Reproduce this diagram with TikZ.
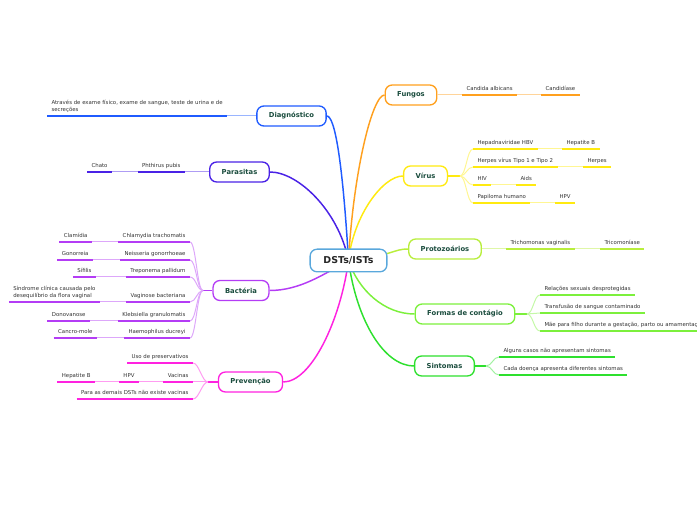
\documentclass[tikz,border=0pt]{standalone}
\usepackage{fontspec}
\setmainfont{DejaVu Sans}
\usetikzlibrary{backgrounds}

\definecolor{ctrc}{HTML}{5AA8DC}
\definecolor{labelc}{HTML}{1B4D3E}
\definecolor{leafc}{HTML}{333333}
\definecolor{diagc}{HTML}{1F5BFF}
\definecolor{parac}{HTML}{4A22E6}
\definecolor{bactc}{HTML}{B43CF5}
\definecolor{prevc}{HTML}{FF22E0}
\definecolor{fungc}{HTML}{FFA01E}
\definecolor{virc}{HTML}{FFEA10}
\definecolor{protc}{HTML}{B8EE3C}
\definecolor{formc}{HTML}{7CF03C}
\definecolor{sintc}{HTML}{2EE02E}

\tikzset{
	topic/.style={draw=#1, fill=white, line width=1pt, rounded corners=5.25pt, minimum height=15pt, inner xsep=9pt, inner ysep=0pt, font=\fontsize{5.1}{6}\selectfont\bfseries, text=labelc},
	leaf/.style={inner xsep=3pt, inner ysep=2pt, font=\fontsize{4.05}{5.2}\selectfont, text=leafc, text height=3.1pt, text depth=1pt},
	leaftwo/.style={inner xsep=3pt, inner ysep=2pt, font=\fontsize{4.05}{5.2}\selectfont, text=leafc, align=left},
	ul/.style={draw=#1, line width=1.1pt},
	twig/.style={draw=#1!45, line width=0.75pt},
	branch/.style={draw=#1, line width=1.1pt}}
\tikzset{every picture/.style={line width=0.75pt}}

\begin{document}
\begin{tikzpicture}[x=0.75pt,y=0.75pt,yscale=-1,xscale=1]
	\useasboundingbox (0,0) rectangle (697,520);

	%Central topic
	\node[topic=ctrc, minimum height=17pt, inner xsep=10pt, font=\fontsize{7.1}{8}\selectfont\bfseries, text=black!85] (dst) at (348.5,260.5) {DSTs/ISTs};

	%Main topics
	\node[topic=diagc] (diag) at (291.5,116) {Diagnóstico};
	\node[topic=parac] (paras) at (239.5,172) {Parasitas};
	\node[topic=bactc] (bact) at (241,290.5) {Bactéria};
	\node[topic=prevc] (prev) at (250.5,382) {Prevenção};
	\node[topic=fungc] (fung) at (411,95) {Fungos};
	\node[topic=virc] (virus) at (425.5,176) {Vírus};
	\node[topic=protc] (proto) at (445,249) {Protozoários};
	\node[topic=formc] (formas) at (465,314) {Formas de contágio};
	\node[topic=sintc] (sint) at (444.5,366) {Sintomas};

	%Main branches
	\begin{scope}[on background layer]
	\draw[branch=diagc] (dst.center) .. controls +(-6,-100) and +(8,0) .. (diag.east);
	\draw[branch=parac] (dst.center) .. controls +(-10,-50) and +(28,0) .. (paras.east);
	\draw[branch=bactc] (dst.center) .. controls +(-25,14) and +(30,0) .. (bact.east);
	\draw[branch=prevc] (dst.center) .. controls +(-8,60) and +(28,0) .. (prev.east);
	\draw[branch=fungc] (dst.center) .. controls +(5,-90) and +(-12,0) .. (fung.west);
	\draw[branch=virc] (dst.center) .. controls +(5,-45) and +(-20,0) .. (virus.west);
	\draw[branch=protc] (dst.center) .. controls +(45,-5) and +(-15,0) .. (proto.west);
	\draw[branch=formc] (dst.center) .. controls +(10,30) and +(-30,0) .. (formas.west);
	\draw[branch=sintc] (dst.center) .. controls +(8,60) and +(-30,0) .. (sint.west);
	\end{scope}

	%Diagnóstico
	\node[leaftwo, anchor=south west] (dexam) at (47,116) {Através de exame físico, exame de sangue, teste de urina e de\\secreções};
	\draw[ul=diagc] (dexam.south west) -- (dexam.south east);
	\draw[twig=diagc] (dexam.south east) -- (diag.west);

	%Parasitas
	\node[leaf, anchor=south east] (phth) at (185,172) {Phthirus pubis};
	\node[leaf, anchor=south east] (chato) at (112,172) {Chato};
	\draw[ul=parac] (phth.south west) -- (phth.south east);
	\draw[ul=parac] (chato.south west) -- (chato.south east);
	\draw[twig=parac] (chato.south east) -- (phth.south west);
	\draw[twig=parac] (phth.south east) -- (paras.west);

	%Bactéria
	\coordinate (bj) at (203,290.5);
	\draw[branch=bactc] (bact.west) -- (bj);
	\node[leaf, anchor=south east] (chla) at (190,242) {Chlamydia trachomatis};
	\node[leaf, anchor=south east] (neis) at (190,260) {Neisseria gonorrhoeae};
	\node[leaf, anchor=south east] (trep) at (190,277) {Treponema pallidum};
	\node[leaf, anchor=south east] (vagi) at (190,302) {Vaginose bacteriana};
	\node[leaf, anchor=south east] (kleb) at (190,321) {Klebsiella granulomatis};
	\node[leaf, anchor=south east] (haem) at (190,338) {Haemophilus ducreyi};
	\node[leaf, anchor=south east] (clam) at (92,242) {Clamídia};
	\node[leaf, anchor=south east] (gono) at (93,260) {Gonorreia};
	\node[leaf, anchor=south east] (sifi) at (96,277) {Sífilis};
	\node[leaftwo, anchor=south east] (sind) at (100,302) {Síndrome clínica causada pelo\\desequilíbrio da flora vaginal};
	\node[leaf, anchor=south east] (dono) at (90,321) {Donovanose};
	\node[leaf, anchor=south east] (canc) at (97,338) {Cancro-mole};
	\draw[twig=bactc] (bj) .. controls +(-6,0) and +(6,0) .. (chla.south east);
	\draw[twig=bactc] (bj) .. controls +(-6,0) and +(6,0) .. (neis.south east);
	\draw[twig=bactc] (bj) .. controls +(-6,0) and +(6,0) .. (trep.south east);
	\draw[twig=bactc] (bj) .. controls +(-6,0) and +(6,0) .. (vagi.south east);
	\draw[twig=bactc] (bj) .. controls +(-6,0) and +(6,0) .. (kleb.south east);
	\draw[twig=bactc] (bj) .. controls +(-6,0) and +(6,0) .. (haem.south east);
	\draw[twig=bactc] (clam.south east) -- (chla.south west);
	\draw[twig=bactc] (gono.south east) -- (neis.south west);
	\draw[twig=bactc] (sifi.south east) -- (trep.south west);
	\draw[twig=bactc] (sind.south east) -- (vagi.south west);
	\draw[twig=bactc] (dono.south east) -- (kleb.south west);
	\draw[twig=bactc] (canc.south east) -- (haem.south west);
	\draw[ul=bactc] (chla.south west) -- (chla.south east);
	\draw[ul=bactc] (neis.south west) -- (neis.south east);
	\draw[ul=bactc] (trep.south west) -- (trep.south east);
	\draw[ul=bactc] (vagi.south west) -- (vagi.south east);
	\draw[ul=bactc] (kleb.south west) -- (kleb.south east);
	\draw[ul=bactc] (haem.south west) -- (haem.south east);
	\draw[ul=bactc] (clam.south west) -- (clam.south east);
	\draw[ul=bactc] (gono.south west) -- (gono.south east);
	\draw[ul=bactc] (sifi.south west) -- (sifi.south east);
	\draw[ul=bactc] (sind.south west) -- (sind.south east);
	\draw[ul=bactc] (dono.south west) -- (dono.south east);
	\draw[ul=bactc] (canc.south west) -- (canc.south east);

	%Prevenção
	\coordinate (pj) at (208,382);
	\draw[branch=prevc] (prev.west) -- (pj);
	\node[leaf, anchor=south east] (uso) at (193,363) {Uso de preservativos};
	\node[leaf, anchor=south east] (vaci) at (193,382) {Vacinas};
	\node[leaf, anchor=south east] (phpv) at (139,382) {HPV};
	\node[leaf, anchor=south east] (phep) at (95,382) {Hepatite B};
	\node[leaf, anchor=south east] (dema) at (193,399) {Para as demais DSTs não existe vacinas};
	\draw[twig=prevc] (pj) .. controls +(-6,0) and +(6,0) .. (uso.south east);
	\draw[twig=prevc] (pj) -- (vaci.south east);
	\draw[twig=prevc] (pj) .. controls +(-6,0) and +(6,0) .. (dema.south east);
	\draw[twig=prevc] (phep.south east) -- (phpv.south west);
	\draw[twig=prevc] (phpv.south east) -- (vaci.south west);
	\draw[ul=prevc] (uso.south west) -- (uso.south east);
	\draw[ul=prevc] (vaci.south west) -- (vaci.south east);
	\draw[ul=prevc] (phpv.south west) -- (phpv.south east);
	\draw[ul=prevc] (phep.south west) -- (phep.south east);
	\draw[ul=prevc] (dema.south west) -- (dema.south east);

	%Fungos
	\node[leaf, anchor=south west] (calb) at (462,95) {Candida albicans};
	\node[leaf, anchor=south west] (cand) at (541,95) {Candidíase};
	\draw[twig=fungc] (fung.east) -- (calb.south west);
	\draw[twig=fungc] (calb.south east) -- (cand.south west);
	\draw[ul=fungc] (calb.south west) -- (calb.south east);
	\draw[ul=fungc] (cand.south west) -- (cand.south east);

	%Vírus
	\coordinate (vj) at (460,176);
	\draw[branch=virc] (virus.east) -- (vj);
	\node[leaf, anchor=south west] (hbv) at (473,149) {Hepadnaviridae HBV};
	\node[leaf, anchor=south west] (herv) at (473,167) {Herpes vírus Tipo 1 e Tipo 2};
	\node[leaf, anchor=south west] (hiv) at (473,185) {HIV};
	\node[leaf, anchor=south west] (papi) at (473,203) {Papiloma humano};
	\node[leaf, anchor=south west] (vhep) at (562,149) {Hepatite B};
	\node[leaf, anchor=south west] (herp) at (583,167) {Herpes};
	\node[leaf, anchor=south west] (aids) at (516,185) {Aids};
	\node[leaf, anchor=south west] (vhpv) at (555,203) {HPV};
	\draw[twig=virc] (vj) .. controls +(6,0) and +(-6,0) .. (hbv.south west);
	\draw[twig=virc] (vj) .. controls +(6,0) and +(-6,0) .. (herv.south west);
	\draw[twig=virc] (vj) .. controls +(6,0) and +(-6,0) .. (hiv.south west);
	\draw[twig=virc] (vj) .. controls +(6,0) and +(-6,0) .. (papi.south west);
	\draw[twig=virc] (hbv.south east) -- (vhep.south west);
	\draw[twig=virc] (herv.south east) -- (herp.south west);
	\draw[twig=virc] (hiv.south east) -- (aids.south west);
	\draw[twig=virc] (papi.south east) -- (vhpv.south west);
	\draw[ul=virc] (hbv.south west) -- (hbv.south east);
	\draw[ul=virc] (herv.south west) -- (herv.south east);
	\draw[ul=virc] (hiv.south west) -- (hiv.south east);
	\draw[ul=virc] (papi.south west) -- (papi.south east);
	\draw[ul=virc] (vhep.south west) -- (vhep.south east);
	\draw[ul=virc] (herp.south west) -- (herp.south east);
	\draw[ul=virc] (aids.south west) -- (aids.south east);
	\draw[ul=virc] (vhpv.south west) -- (vhpv.south east);

	%Protozoários
	\node[leaf, anchor=south west] (tvag) at (506,249) {Trichomonas vaginalis};
	\node[leaf, anchor=south west] (tric) at (600,249) {Tricomoníase};
	\draw[twig=protc] (proto.east) -- (tvag.south west);
	\draw[twig=protc] (tvag.south east) -- (tric.south west);
	\draw[ul=protc] (tvag.south west) -- (tvag.south east);
	\draw[ul=protc] (tric.south west) -- (tric.south east);

	%Formas de contágio
	\coordinate (fj) at (527,314);
	\draw[branch=formc] (formas.east) -- (fj);
	\node[leaf, anchor=south west] (rela) at (540,295) {Relações sexuais desprotegidas};
	\node[leaf, anchor=south west] (tran) at (540,313) {Transfusão de sangue contaminado};
	\node[leaf, anchor=south west] (maef) at (540,331) {Mãe para filho durante a gestação, parto ou amamentação};
	\draw[twig=formc] (fj) .. controls +(6,0) and +(-6,0) .. (rela.south west);
	\draw[twig=formc] (fj) .. controls +(6,0) and +(-6,0) .. (tran.south west);
	\draw[twig=formc] (fj) .. controls +(6,0) and +(-6,0) .. (maef.south west);
	\draw[ul=formc] (rela.south west) -- (rela.south east);
	\draw[ul=formc] (tran.south west) -- (tran.south east);
	\draw[ul=formc] (maef.south west) -- (maef.south east);

	%Sintomas
	\coordinate (sj) at (486,366);
	\draw[branch=sintc] (sint.east) -- (sj);
	\node[leaf, anchor=south west] (algu) at (499,357) {Alguns casos não apresentam sintomas};
	\node[leaf, anchor=south west] (cada) at (499,375) {Cada doença apresenta diferentes sintomas};
	\draw[twig=sintc] (sj) .. controls +(6,0) and +(-6,0) .. (algu.south west);
	\draw[twig=sintc] (sj) .. controls +(6,0) and +(-6,0) .. (cada.south west);
	\draw[ul=sintc] (algu.south west) -- (algu.south east);
	\draw[ul=sintc] (cada.south west) -- (cada.south east);

\end{tikzpicture}
\end{document}
